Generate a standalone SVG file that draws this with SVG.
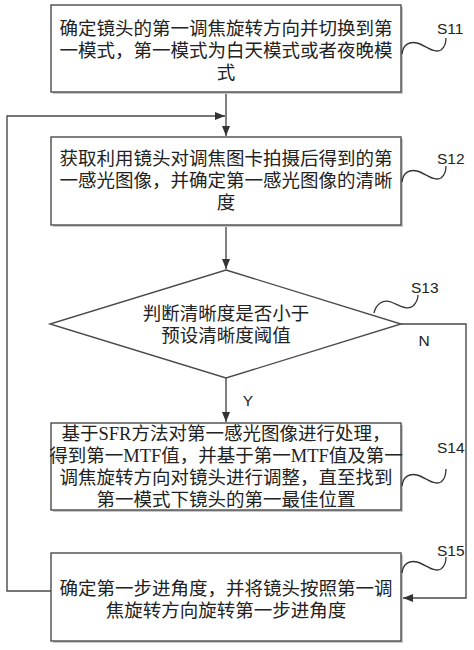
<svg xmlns="http://www.w3.org/2000/svg" width="474" height="650" viewBox="0 0 474 650">
<style>
.box{fill:#fff;stroke:#4a4a4a;stroke-width:1.4}
.sh{fill:#c8c8c8;stroke:none}
.t{font-family:"Liberation Sans","Noto Sans CJK SC",sans-serif;font-size:18.5px;fill:#222;text-anchor:middle}
.t4{font-family:"Liberation Serif","Noto Sans CJK SC",serif;font-size:18.5px;fill:#222;text-anchor:middle}
.lbl{font-family:"Liberation Sans","Noto Sans",sans-serif;font-size:15.5px;fill:#222}
.ln{fill:none;stroke:#4a4a4a;stroke-width:1.4}
.sq{fill:none;stroke:#333;stroke-width:1.3}
</style>
<defs>
<marker id="ah" markerUnits="userSpaceOnUse" markerWidth="10" markerHeight="10" viewBox="0 0 10 10" refX="10" refY="5" orient="auto">
<path d="M0,1 L10,5 L0,9 Z" fill="#333"/>
</marker>
</defs>
<g id="connectors">
<path class="ln" d="M226,92 V136" marker-end="url(#ah)"/>
<path class="ln" d="M51,591 H7 V116 H225" marker-end="url(#ah)"/>
<path class="ln" d="M226,225 V269" marker-end="url(#ah)"/>
<path class="ln" d="M226,378 V422" marker-end="url(#ah)"/>
<path class="ln" d="M401,324 H466 V598 H403" marker-end="url(#ah)"/>
<text class="lbl" x="424" y="346" text-anchor="middle">N</text>
<text class="lbl" x="248" y="406" text-anchor="middle">Y</text>
</g>
<g id="s11">
<rect class="sh" x="53" y="7" width="350" height="87"/>
<rect class="box" x="51" y="5" width="350" height="87"/>
<text class="t" x="226" y="34.5">确定镜头的第一调焦旋转方向并切换到第</text>
<text class="t" x="226" y="56.5">一模式，第一模式为白天模式或者夜晚模</text>
<text class="t" x="226" y="78.5">式</text>
<path class="sq" d="M402,54 C403,45 409,41 417,43 C425,45 434,54 441,50 C445,47 446,42 446,38"/>
<text class="lbl" x="437" y="33.5">S11</text>
</g>
<g id="s12">
<rect class="sh" x="53" y="139" width="350" height="88"/>
<rect class="box" x="51" y="137" width="350" height="88"/>
<text class="t" x="226" y="164.5">获取利用镜头对调焦图卡拍摄后得到的第</text>
<text class="t" x="226" y="186.5">一感光图像，并确定第一感光图像的清晰</text>
<text class="t" x="226" y="208.5">度</text>
<path class="sq" d="M402,182 C403,173 409,169 417,171 C425,173 434,182 441,178 C445,175 446,170 446,166"/>
<text class="lbl" x="437" y="163.5">S12</text>
</g>
<g id="s13">
<polygon class="box" points="226,270 401,324 226,378 50,324"/>
<text class="t" x="226" y="319.5">判断清晰度是否小于</text>
<text class="t" x="226" y="341.5">预设清晰度阈值</text>
<path class="sq" d="M374,313 C376,304 383,299 391,302 C399,305 407,311 413,306 C417,302 418,298 418,295"/>
<text class="lbl" x="411" y="293">S13</text>
</g>
<g id="s14">
<rect class="sh" x="53" y="425" width="350" height="87"/>
<rect class="box" x="51" y="423" width="350" height="87"/>
<text class="t4" x="226" y="439.5">基于SFR方法对第一感光图像进行处理，</text>
<text class="t4" x="226" y="461.5">得到第一MTF值，并基于第一MTF值及第一</text>
<text class="t4" x="226" y="483.5">调焦旋转方向对镜头进行调整，直至找到</text>
<text class="t4" x="226" y="505.5">第一模式下镜头的第一最佳位置</text>
<path class="sq" d="M402,486 C403,477 409,473 417,475 C425,477 434,486 441,482 C445,479 446,474 446,469"/>
<text class="lbl" x="437" y="453">S14</text>
</g>
<g id="s15">
<rect class="sh" x="53" y="555" width="350" height="88"/>
<rect class="box" x="51" y="553" width="350" height="88"/>
<text class="t" x="226" y="594.5">确定第一步进角度，并将镜头按照第一调</text>
<text class="t" x="226" y="616.5">焦旋转方向旋转第一步进角度</text>
<path class="sq" d="M402,573 C403,564 409,560 417,562 C425,564 434,573 441,569 C445,566 446,561 446,557"/>
<text class="lbl" x="437" y="556">S15</text>
</g>
</svg>
